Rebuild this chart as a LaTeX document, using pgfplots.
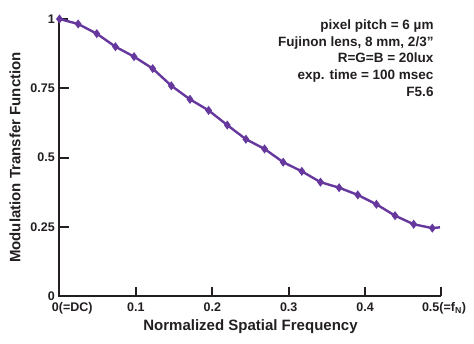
\documentclass[border=0pt]{standalone}
\usepackage{fontspec}
\setmainfont{Liberation Sans}
\usepackage{pgfplots}
\pgfplotsset{compat=1.18}
\definecolor{mtf}{RGB}{102,56,158}
\definecolor{labtext}{RGB}{35,31,32}
\tikzset{infotext/.style={anchor=base east, inner sep=0pt, font=\fontsize{13.5}{16}\selectfont\bfseries, text=labtext}}
\begin{document}
\begin{tikzpicture}
\useasboundingbox (-59.5pt,-47pt) rectangle (414.5pt,296pt);
\begin{axis}[
  scale only axis, width=382pt, height=277pt,
  at={(0,0)}, anchor=south west,
  xmin=0, xmax=0.5, ymin=0, ymax=1,
  axis lines=left, axis line style={-, line width=2pt, draw=labtext},
  clip=false,
  tick align=inside, major tick length=9pt,
  tick style={line width=2pt, draw=labtext},
  xtick={0,0.1,0.2,0.3,0.4,0.5},
  xticklabels={\makebox[0pt][l]{\kern-7.5pt 0(=DC)},0.1,0.2,0.3,0.4,\makebox[0pt][r]{0.5(=f\textsubscript{N})\kern-24.5pt}},
  ytick={0,0.25,0.5,0.75,1},
  yticklabels={0,0.25,0.5,0.75,1},
  xticklabel style={anchor=base, inner sep=0pt, yshift=-15.7pt, font=\fontsize{12.5}{15}\selectfont\bfseries, text=labtext},
  yticklabel style={anchor=east, inner sep=0pt, xshift=-4.5pt, font=\fontsize{12.5}{15}\selectfont\bfseries, text=labtext},
  xlabel={Normalized Spatial Frequency},
  ylabel={Modulation Transfer Function},
  xlabel style={at={(axis description cs:0.5,0)}, anchor=base, yshift=-34pt, inner sep=0pt, font=\fontsize{15}{17}\selectfont\bfseries, text=labtext},
  ylabel style={at={(axis description cs:0,0.5)}, anchor=center, yshift=44.5pt, inner sep=0pt, font=\fontsize{15}{17}\selectfont\bfseries, text=labtext},
]
\addplot[color=labtext, line width=2pt, mark=none, line join=miter, forget plot] coordinates {(0,1) (0,0) (0.5,0)};
\addplot[color=labtext, line width=2pt, mark=none, forget plot] coordinates {(0,0.25) (0.0118,0.25)};
\addplot[color=labtext, line width=2pt, mark=none, forget plot] coordinates {(0,0.5) (0.0118,0.5)};
\addplot[color=labtext, line width=2pt, mark=none, forget plot] coordinates {(0,0.75) (0.0118,0.75)};
\addplot[color=labtext, line width=2pt, mark=none, forget plot] coordinates {(0.1,0) (0.1,0.0325)};
\addplot[color=labtext, line width=2pt, mark=none, forget plot] coordinates {(0.2,0) (0.2,0.0325)};
\addplot[color=labtext, line width=2pt, mark=none, forget plot] coordinates {(0.3,0) (0.3,0.0325)};
\addplot[color=labtext, line width=2pt, mark=none, forget plot] coordinates {(0.4,0) (0.4,0.0325)};
\addplot[color=labtext, line width=2pt, mark=none, forget plot] coordinates {(0.5,0) (0.5,0.0325)};
\addplot[color=mtf, line width=2.4pt, mark=diamond*, mark size=2.6pt, mark indices={1,...,21}, mark options={solid}] coordinates {
(0.0000,1.000) (0.0244,0.982) (0.0488,0.947) (0.0732,0.900) (0.0976,0.864)
(0.1220,0.821) (0.1464,0.759) (0.1708,0.710) (0.1952,0.670) (0.2196,0.617)
(0.2440,0.566) (0.2684,0.531) (0.2928,0.483) (0.3172,0.450) (0.3416,0.411)
(0.3660,0.391) (0.3904,0.365) (0.4148,0.331) (0.4392,0.290) (0.4636,0.259)
(0.4880,0.245) (0.4980,0.248)
};
\node[infotext] at (axis cs:0.4898,0.963) {pixel pitch = 6 µm};
\node[infotext] at (axis cs:0.4898,0.9025) {Fujinon lens, 8 mm, 2/3”};
\node[infotext] at (axis cs:0.4898,0.842) {R=G=B = 20lux};
\node[infotext] at (axis cs:0.4898,0.782) {exp. time = 100 msec};
\node[infotext] at (axis cs:0.4898,0.722) {F5.6};
\end{axis}
\end{tikzpicture}
\end{document}
